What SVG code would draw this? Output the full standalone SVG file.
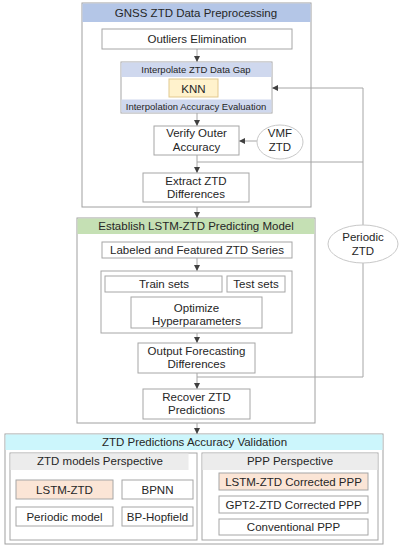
<svg xmlns="http://www.w3.org/2000/svg" width="406" height="550" viewBox="0 0 406 550">
<style>
text{font-family:"Liberation Sans",Arial,sans-serif;font-size:11.5px;fill:#262626;text-anchor:middle}
.sm{font-size:9.5px}
.box{fill:#fff;stroke:#a6a6a6;stroke-width:1}
.outer{fill:#fff;stroke:#a0a0a0;stroke-width:1}
.ell{fill:#fff;stroke:#c8c8c8;stroke-width:1}
.conn{fill:none;stroke:#a6a6a6;stroke-width:1}
.arr{marker-end:url(#ah)}
</style>
<defs>
<marker id="ah" viewBox="0 0 10 10" refX="10" refY="5" markerWidth="6" markerHeight="6" markerUnits="userSpaceOnUse" orient="auto">
<path d="M0,0 L10,5 L0,10 z" fill="#404040"/>
</marker>
</defs>
<rect width="406" height="550" fill="#fff"/>

<g id="grp-preprocessing">
<rect class="outer" x="82" y="3" width="229" height="204"/>
<rect x="82.5" y="3.5" width="228" height="18.5" fill="#b4c6e7"/>
<text x="196" y="17">GNSS ZTD Data Preprocessing</text>
</g>
<g id="grp-lstm">
<rect class="outer" x="77" y="218" width="238" height="205"/>
<rect x="77.5" y="218.5" width="237" height="15.5" fill="#c5e0b4"/>
<text x="196" y="230">Establish LSTM-ZTD Predicting Model</text>
</g>
<g id="grp-validation">
<rect class="outer" x="5" y="434" width="378" height="110"/>
<rect x="5.5" y="434.5" width="377" height="15.5" fill="#ccf6fc"/>
<text x="194.5" y="446">ZTD Predictions Accuracy Validation</text>
</g>

<g id="connectors">
<path class="conn arr" d="M197,49 V62"/>
<path class="conn arr" d="M197,113 V126"/>
<path class="conn arr" d="M257,141 H239"/>
<path class="conn arr" d="M197,155 V173"/>
<path class="conn" d="M197,162 H363"/>
<path class="conn" d="M363,88 V377 H197"/>
<path class="conn arr" d="M363,88 H272"/>
<path class="conn arr" d="M197,207 V218"/>
<path class="conn arr" d="M197,258 V271"/>
<path class="conn arr" d="M197,333 V343"/>
<path class="conn arr" d="M197,373 V389"/>
<path class="conn arr" d="M197,423 V434"/>
</g>

<g id="n-outliers">
<rect class="box" x="102" y="29" width="190" height="20"/>
<text x="197" y="43">Outliers Elimination</text>
</g>
<g id="n-interpolate">
<rect class="box" x="121" y="62" width="151" height="51"/>
<rect x="121.5" y="62.5" width="150" height="14.5" fill="#cfd8ee"/>
<rect x="121.5" y="99.5" width="150" height="13" fill="#cfd8ee"/>
<text class="sm" x="196" y="73">Interpolate ZTD Data Gap</text>
<text class="sm" x="196" y="109.5">Interpolation Accuracy Evaluation</text>
</g>
<g id="n-knn">
<rect x="169" y="79" width="49" height="18" fill="#fff2cc" stroke="#e2c98f"/>
<text x="193.5" y="92.5">KNN</text>
</g>
<g id="n-verify">
<rect class="box" x="154" y="126" width="85" height="29"/>
<text x="196.5" y="137">Verify Outer</text>
<text x="196.5" y="151">Accuracy</text>
</g>
<g id="n-vmf">
<ellipse class="ell" cx="280" cy="142" rx="23" ry="17"/>
<text x="280" y="137">VMF</text>
<text x="280" y="151">ZTD</text>
</g>
<g id="n-extract">
<rect class="box" x="143" y="173" width="106" height="29"/>
<text x="196" y="185">Extract ZTD</text>
<text x="196" y="198">Differences</text>
</g>
<g id="n-periodic-ztd">
<ellipse class="ell" cx="363" cy="244" rx="35" ry="19"/>
<text x="363" y="241">Periodic</text>
<text x="363" y="255">ZTD</text>
</g>
<g id="n-labeled">
<rect class="box" x="102" y="242" width="190" height="16"/>
<text x="197" y="254">Labeled and Featured ZTD Series</text>
</g>
<g id="n-train-group">
<rect class="box" x="101" y="271" width="191" height="62"/>
</g>
<g id="n-train">
<rect class="box" x="105" y="276" width="117" height="16"/>
<text x="164" y="288">Train sets</text>
</g>
<g id="n-test">
<rect class="box" x="227" y="276" width="58" height="16"/>
<text x="256" y="288">Test sets</text>
</g>
<g id="n-optimize">
<rect class="box" x="131" y="297" width="131" height="31"/>
<text x="196.5" y="312">Optimize</text>
<text x="196.5" y="325">Hyperparameters</text>
</g>
<g id="n-output">
<rect class="box" x="138" y="343" width="117" height="30"/>
<text x="196.5" y="355">Output Forecasting</text>
<text x="196.5" y="368">Differences</text>
</g>
<g id="n-recover">
<rect class="box" x="143" y="389" width="107" height="30"/>
<text x="196.5" y="401">Recover ZTD</text>
<text x="196.5" y="414">Predictions</text>
</g>

<g id="n-ztd-models">
<rect class="box" x="10" y="453" width="187" height="87"/>
<rect x="10.5" y="453.5" width="178" height="16.5" fill="#ececec"/>
<text x="100" y="465">ZTD models Perspective</text>
</g>
<g id="n-lstm-ztd">
<rect x="16" y="480" width="97" height="19" fill="#fbe5d6" stroke="#a6a6a6"/>
<text x="64.5" y="494">LSTM-ZTD</text>
</g>
<g id="n-bpnn">
<rect class="box" x="122" y="480" width="71" height="19"/>
<text x="157.5" y="494">BPNN</text>
</g>
<g id="n-periodic-model">
<rect class="box" x="16" y="507" width="97" height="19"/>
<text x="64.5" y="521">Periodic model</text>
</g>
<g id="n-bphopfield">
<rect class="box" x="122" y="507" width="71" height="19"/>
<text x="157.5" y="521">BP-Hopfield</text>
</g>
<g id="n-ppp">
<rect class="box" x="202" y="453" width="176" height="87"/>
<rect x="202.5" y="453.5" width="175" height="16.5" fill="#ececec"/>
<text x="290" y="465">PPP Perspective</text>
</g>
<g id="n-lstm-ppp">
<rect x="219" y="473" width="149" height="17" fill="#fbe5d6" stroke="#a6a6a6"/>
<text x="293.5" y="486">LSTM-ZTD Corrected PPP</text>
</g>
<g id="n-gpt2-ppp">
<rect class="box" x="219" y="496" width="149" height="17"/>
<text x="293.5" y="509">GPT2-ZTD Corrected PPP</text>
</g>
<g id="n-conv-ppp">
<rect class="box" x="219" y="519" width="149" height="16"/>
<text x="293.5" y="531">Conventional PPP</text>
</g>
</svg>
